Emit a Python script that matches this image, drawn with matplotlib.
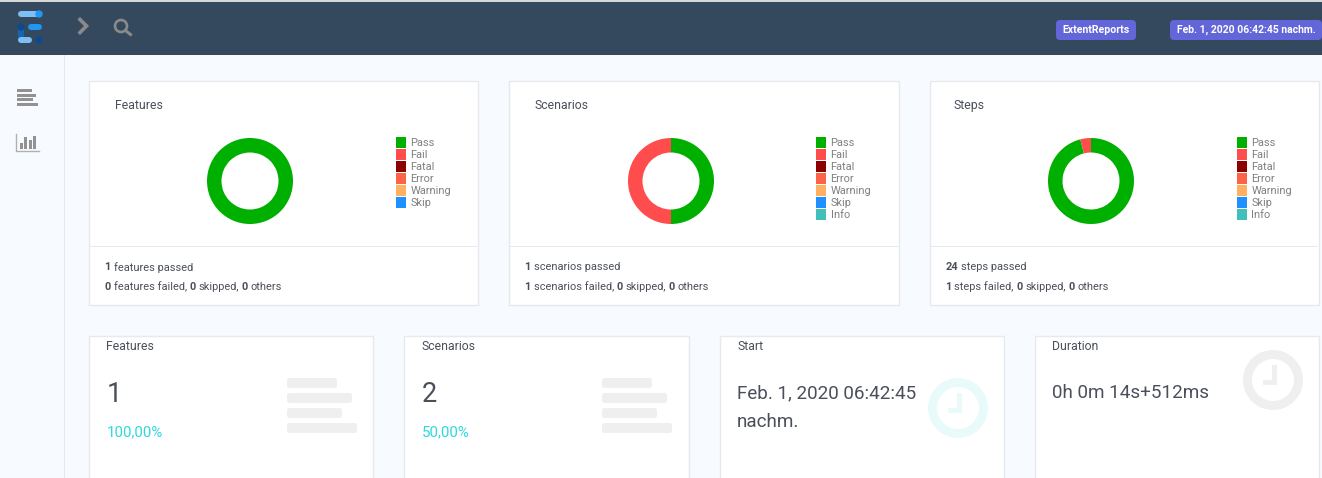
"""ExtentReports dashboard screenshot, drawn in pixel coords."""
import matplotlib
matplotlib.use("Agg")
import matplotlib.pyplot as plt
from matplotlib.patches import Circle, FancyBboxPatch, Rectangle, Wedge

plt.rcParams["font.family"] = ["Roboto", "DejaVu Sans"]

W, H = 1322, 478

legend_names = ["Pass", "Fail", "Fatal", "Error", "Warning", "Skip", "Info"]
legend_colors = ["#00b000", "#ff4c4c", "#8b0000", "#ff6347", "#ffb061", "#1e90ff", "#40c0b8"]

features_values = [1, 0, 0, 0, 0, 0]
scenarios_values = [1, 1, 0, 0, 0, 0, 0]
steps_values = [24, 1, 0, 0, 0, 0, 0]

card_titles = ["Features", "Scenarios", "Steps"]
card_lines = [
    ("1", "features", "0", "features", "0", "0"),
    ("1", "scenarios", "1", "scenarios", "0", "0"),
    ("24", "steps", "1", "steps", "0", "0"),
]
tile_titles = ["Features", "Scenarios", "Start", "Duration"]
tile_counts = ["1", "2"]
tile_percents = ["100,00%", "50,00%"]
start_lines = ["Feb. 1, 2020 06:42:45", "nachm."]
duration_text = "0h 0m 14s+512ms"
badge_left = "ExtentReports"
badge_right = "Feb. 1, 2020 06:42:45 nachm."

BG = "#f7faff"
HEADER = "#34495e"
BORDER = "#e6e9ee"
TEXT = "#4a4f5a"
GREY = "#8a8a8a"

fig = plt.figure(figsize=(W / 100, H / 100), dpi=100, facecolor=BG)
ax = fig.add_axes([0, 0, 1, 1])
ax.set_xlim(0, W)
ax.set_ylim(H, 0)
ax.axis("off")


def px(size):
    return size * 0.72


def rect(x0, y0, x1, y1, color, edge="none", z=1):
    ax.add_patch(Rectangle((x0, y0), x1 - x0, y1 - y0, facecolor=color, edgecolor=edge, lw=1, zorder=z))


def rounded(x0, y0, x1, y1, color, r=3, z=2):
    ax.add_patch(FancyBboxPatch((x0, y0), x1 - x0, y1 - y0, boxstyle=f"round,pad=0,rounding_size={r}",
                                facecolor=color, edgecolor="none", zorder=z))


def bar(x0, x1, y, lw, color, z=3):
    ax.plot([x0, x1], [y, y], color=color, lw=lw * 0.72, solid_capstyle="round", zorder=z)


def label(x, y, s, size, color=TEXT, **kw):
    return ax.text(x, y, s, fontsize=px(size), color=color, va="center", ha=kw.pop("ha", "left"), zorder=5, **kw)


def run_width(s, size, weight):
    # sentinels keep the outer spaces in the measured width
    rend = fig.canvas.get_renderer()
    a = label(0, 0, "|" + s + "|", size, weight=weight)
    b = label(0, 0, "||", size, weight=weight)
    w = a.get_window_extent(rend).width - b.get_window_extent(rend).width
    a.remove()
    b.remove()
    return w


def mixed(x, y, parts, size):
    # bold and regular runs in one line
    for s, bold in parts:
        weight = "bold" if bold else "normal"
        lead = len(s) - len(s.lstrip(" "))
        label(x + run_width(" " * lead, size, weight), y, s.strip(" "), size, weight=weight)
        x += run_width(s, size, weight)


def donut(cx, cy, values, colors):
    r = 43
    dax = fig.add_axes([(cx - r) / W, 1 - (cy + r) / H, 2 * r / W, 2 * r / H])
    dax.pie(values, colors=colors[:len(values)], startangle=90, counterclock=False, radius=1,
            wedgeprops={"width": 14.5 / 43, "linewidth": 0})
    dax.set_xlim(-1, 1)
    dax.set_ylim(-1, 1)


def clock(cx, cy, color):
    ax.add_patch(Wedge((cx, cy), 30, 0, 360, width=9, facecolor=color, edgecolor="none", zorder=3))
    rect(cx - 1, cy - 15, cx + 4, cy + 5, color, z=3)
    rect(cx - 10, cy, cx + 4, cy + 5, color, z=3)


# header
rect(0, 0, W, 1.5, "#d8d8d8")
rect(0, 1.5, W, 55, HEADER)
# logo
bar(21, 39, 14, 6, "#7fbdf5")
ax.add_patch(Circle((39, 14), 3, color="#2196f3", zorder=4))
ax.plot([21, 21], [27, 40], color="#1565b0", lw=6 * 0.72, solid_capstyle="butt", zorder=3)
ax.add_patch(Circle((21, 27), 3, color="#0d4a8c", zorder=4))
bar(31, 39, 27, 6, "#2196f3")
bar(21, 29, 40, 6, "#7fbdf5")
ax.add_patch(Circle((39, 40), 3, color="#0d4a8c", zorder=4))
# chevron and search
ax.plot([80, 86.5, 80], [19.5, 26, 32.5], color=GREY, lw=2.6, solid_joinstyle="miter", zorder=3)
ax.add_patch(Circle((121, 26), 6, facecolor="none", edgecolor=GREY, lw=1.9, zorder=3))
ax.plot([125.5, 130.5], [30.5, 34.5], color=GREY, lw=2.2, zorder=3)
rounded(1056, 20, 1136, 40, "#6366d8", r=4)
label(1096, 30, badge_left, 10.5, color="white", ha="center", weight="bold")
rounded(1170, 20, 1322, 40, "#6366d8", r=4)
label(1246, 30, badge_right, 10.4, color="white", ha="center", weight="bold")

# sidebar
rect(64, 55, 65, H, BORDER)
for y, x1 in zip([90.5, 95, 99.5, 104], [32, 36, 33, 38]):
    rect(17, y - 1.5, x1, y + 1.5, "#929292")
ax.plot([16, 16, 39], [134, 150.5, 150.5], color="#b0b0b0", lw=1, zorder=3)
for x0, y0 in zip([20, 24, 28.5, 33], [143, 137, 140, 136]):
    rect(x0, y0, x0 + 3, 149, "#929292")

# donut cards
card_x = [(89, 478), (509, 899), (930, 1319)]
title_pad = [26, 25.5, 24]
donut_cx = [250, 671, 1091]
all_values = [features_values, scenarios_values, steps_values]
for (x0, x1), title, pad, lines, cx, vals in zip(card_x, card_titles, title_pad, card_lines, donut_cx, all_values):
    rect(x0 - 0.5, 80.5, x1 - 0.5, 305, "white", edge=BORDER)
    rect(x0, 246, x1 - 1, 247, BORDER, z=2)
    label(x0 + pad, 105.2, title, 12.3)
    donut(cx, 181, vals, legend_colors)
    lx = x0 + 307
    for i, name in enumerate(legend_names[:len(vals)]):
        rect(lx, 137 + 12 * i, lx + 10, 148 + 12 * i, legend_colors[i], z=3)
        label(lx + 14.5, 142.5 + 12 * i, name, 11, color="#808080")
    a, noun, b, noun2, c, d = lines
    mixed(x0 + 15.5, 267.5, [(a, True), (f" {noun} passed", False)], 11.05)
    mixed(x0 + 15.5, 286.5, [(b, True), (f" {noun2} failed, ", False), (c, True), (" skipped, ", False),
                             (d, True), (" others", False)], 11.05)

# lower tiles
tile_x = [(89, 373), (404, 689), (720, 1004), (1035, 1319)]
for (x0, x1), title in zip(tile_x, tile_titles):
    rect(x0 - 0.5, 336, x1 - 0.5, H + 5, "white", edge=BORDER)
    label(x0 + 17, 346.2, title, 12.2)

skeleton = [(378, 50), (393, 65), (408, 55), (423, 70)]
for (x0, _), count, pct in zip(tile_x[:2], tile_counts, tile_percents):
    label(x0 + 17.5, 394, count, 27)
    label(x0 + 18, 432, pct, 15, color="#2fd8dc")
    for y, w in skeleton:
        rounded(x0 + 198, y, x0 + 198 + w, y + 10, "#efefef", r=2.5)

clock(958, 408, "#e8fafa")
clock(1273, 380, "#efefef")
label(737, 393, start_lines[0], 18.9)
label(737, 422, start_lines[1], 18.9)
label(1052, 393, duration_text, 18.9)

fig.savefig("out.png", dpi=100, facecolor=BG)
